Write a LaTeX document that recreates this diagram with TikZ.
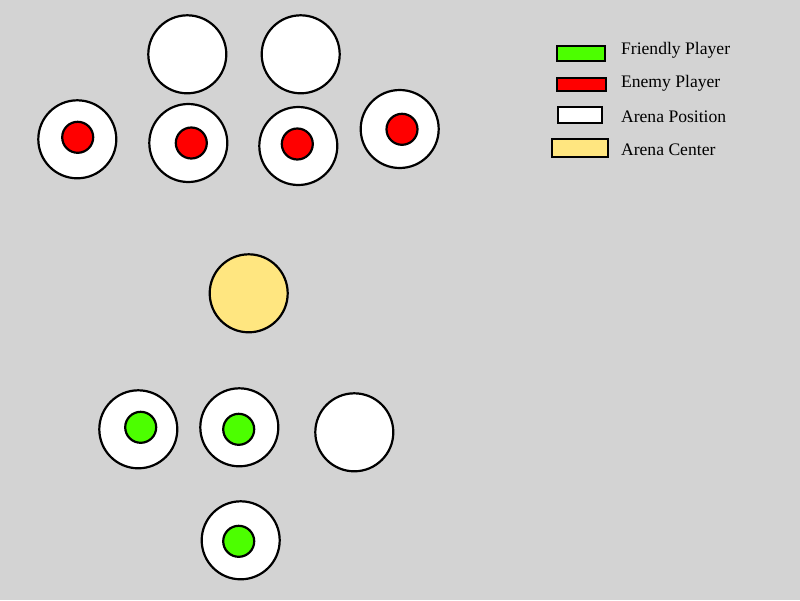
\documentclass[tikz,border=0pt]{standalone}
\usepackage{fontspec}
\setmainfont{Liberation Serif}
\usepackage{tikz}
\definecolor{bggray}{RGB}{211,211,211}
\definecolor{friendlygreen}{RGB}{76,255,0}
\definecolor{enemyred}{RGB}{255,0,0}
\definecolor{centeryellow}{RGB}{255,230,128}
\tikzstyle{every node}=[draw=black,line width=2.2pt,inner sep=0pt]
\tikzstyle{arena}=[circle,fill=white,minimum size=78pt]
\tikzstyle{center}=[circle,fill=centeryellow,minimum size=78pt]
\tikzstyle{friendly}=[circle,fill=friendlygreen,minimum size=31pt]
\tikzstyle{enemy}=[circle,fill=enemyred,minimum size=31pt]
\tikzstyle{legendbox}=[rectangle]
\tikzstyle{legendtext}=[draw=none,anchor=base west,font=\fontsize{17.6}{20}\selectfont]

\begin{document}
\begin{tikzpicture}[x=1pt,y=-1pt]
  \fill[bggray] (0,0) rectangle (800,600);
  \useasboundingbox (0,0) rectangle (800,600);
  % arena positions
  \node [arena] (pos1) at (187.3,54.3) {};
  \node [arena] (pos2) at (300.7,54.3) {};
  \node [arena] (pos3) at (77.3,139.3) {};
  \node [arena] (pos4) at (188.3,143) {};
  \node [arena] (pos5) at (298.3,146) {};
  \node [arena] (pos6) at (399.7,129) {};
  \node [arena] (pos7) at (138.3,429.3) {};
  \node [arena] (pos8) at (239.3,427.3) {};
  \node [arena] (pos9) at (354.3,432.3) {};
  \node [arena] (pos10) at (240.7,540.3) {};
  \node [center] (mid) at (248.7,293.3) {};
  % enemy players
  \node [enemy] (enemy1) at (77.7,137.3) {};
  \node [enemy] (enemy2) at (191.3,143) {};
  \node [enemy] (enemy3) at (297.3,144) {};
  \node [enemy] (enemy4) at (402,129.3) {};
  % friendly players
  \node [friendly] (friend1) at (140.7,427.3) {};
  \node [friendly] (friend2) at (238.7,429.3) {};
  \node [friendly] (friend3) at (238.7,541.3) {};
  % legend
  \node [legendbox,fill=friendlygreen,minimum width=48.3pt,minimum height=15pt] (keyfriend) at (580.9,53.8) {};
  \node [legendbox,fill=enemyred,minimum width=48.7pt,minimum height=13.3pt] (keyenemy) at (581.3,84.3) {};
  \node [legendbox,fill=white,minimum width=44.6pt,minimum height=16.6pt] (keypos) at (580,115) {};
  \node [legendbox,fill=centeryellow,minimum width=56.3pt,minimum height=18.3pt] (keymid) at (579.8,147.8) {};
  \node [legendtext] (txtfriend) at (620,54.3) {Friendly Player};
  \node [legendtext] (txtenemy) at (620,87.7) {Enemy Player};
  \node [legendtext] (txtpos) at (620,122) {Arena Position};
  \node [legendtext] (txtmid) at (620,155.7) {Arena Center};
\end{tikzpicture}
\end{document}
